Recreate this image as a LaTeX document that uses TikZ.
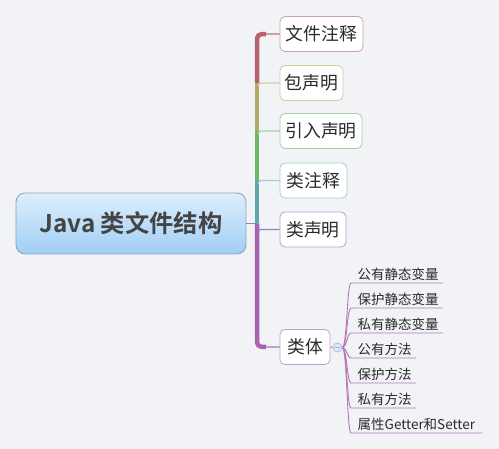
\documentclass[tikz,border=0pt]{standalone}
\usepackage{fontspec}
\setmainfont{Noto Sans CJK SC}[BoldFont={Noto Sans CJK SC Bold}]
\definecolor{bg}{HTML}{F2F3F7}
\definecolor{txt}{HTML}{2A2A2A}
\definecolor{ctxt}{HTML}{444444}
\definecolor{cRed}{HTML}{B4646E}
\definecolor{cOlive}{HTML}{B0AA62}
\definecolor{cGreen}{HTML}{72B565}
\definecolor{cTeal}{HTML}{5FA8A8}
\definecolor{cBlue}{HTML}{8C86C0}
\definecolor{cPurple}{HTML}{A862B0}
\definecolor{bRed}{HTML}{C9A3A8}
\definecolor{bOlive}{HTML}{CFCDA0}
\definecolor{bGreen}{HTML}{A6D0A0}
\definecolor{bTeal}{HTML}{A0CDCD}
\definecolor{bBlue}{HTML}{A8A6D0}
\definecolor{bPurple}{HTML}{C4A0CA}
\definecolor{subline}{HTML}{B478B8}
\begin{document}
\begin{tikzpicture}[x=1pt,y=-1pt,
  branchbox/.style={draw, rounded corners=5pt, fill=white, line width=0.8pt,
    font=\fontsize{17.8}{20}\selectfont, text=txt, inner sep=0pt, minimum height=35pt},
  trunk/.style={line width=4.5pt},
  thinlink/.style={line width=1.2pt},
  subitem/.style={anchor=base west, inner sep=0pt, font=\fontsize{13.5}{16}\selectfont, text=txt},
  subline/.style={draw=subline, line width=0.9pt}]
\fill[bg] (0,0) rectangle (499,449);
\useasboundingbox (0,0) rectangle (499,449);

% central node
\node[draw={rgb,255:red,140;green,160;blue,185}, line width=0.8pt, rounded corners=9pt,
  top color={rgb,255:red,222;green,238;blue,252}, bottom color={rgb,255:red,160;green,206;blue,246},
  minimum width=230pt, minimum height=61pt, inner sep=0pt,
  font=\fontsize{24.3}{28}\bfseries\selectfont, text=ctxt] (root) at (131,223.5) {Java 类文件结构};

% branch boxes
\node[branchbox, draw=bRed, minimum width=83pt] (f1) at (321.5,34) {文件注释};
\node[branchbox, draw=bOlive, minimum width=63pt] (f2) at (311.5,83) {包声明};
\node[branchbox, draw=bGreen, minimum width=82pt] (f3) at (321,131) {引入声明};
\node[branchbox, draw=bTeal, minimum width=67pt] (f4) at (313.5,180.5) {类注释};
\node[branchbox, draw=bBlue, minimum width=66pt] (f5) at (313,229.5) {类声明};
\node[branchbox, draw=bPurple, minimum width=50pt] (f6) at (305,347) {类体};

% trunk points
\coordinate (t0) at (257,223.5);
\coordinate (t1) at (257,34);
\coordinate (t2) at (257,83);
\coordinate (t3) at (257,131);
\coordinate (t4) at (257,180.5);
\coordinate (t5) at (257,229.5);
\coordinate (t6) at (257,347);

% root to trunk
\draw[draw={rgb,255:red,150;green,136;blue,176}, line width=1.2pt] (root.east) -- (t0);

% trunk segments
\draw[trunk, cRed] (t2) -- ([yshift=-8pt]t1) .. controls ([yshift=-1pt]t1) and ([xshift=1pt]t1) .. ([xshift=9pt]t1);
\draw[trunk, cOlive] (t3) -- (t2);
\draw[trunk, cGreen] (t4) -- (t3);
\draw[trunk, cTeal] (t0) -- (t4);
\draw[trunk, cPurple] (t0) -- ([yshift=8pt]t6) .. controls ([yshift=1pt]t6) and ([xshift=1pt]t6) .. ([xshift=9pt]t6);

% thin links
\draw[thinlink, bRed] ([xshift=9pt]t1) -- (f1.west);
\draw[thinlink, bOlive] ([xshift=1pt,yshift=-3pt]t2) .. controls ([xshift=2pt]t2) .. ([xshift=7pt]t2) -- (f2.west);
\draw[thinlink, bGreen] ([xshift=1pt,yshift=-3pt]t3) .. controls ([xshift=2pt]t3) .. ([xshift=7pt]t3) -- (f3.west);
\draw[thinlink, bTeal] ([xshift=1pt,yshift=-3pt]t4) .. controls ([xshift=2pt]t4) .. ([xshift=7pt]t4) -- (f4.west);
\draw[thinlink, cBlue] ([xshift=1pt,yshift=-3pt]t5) .. controls ([xshift=2pt]t5) .. ([xshift=7pt]t5) -- (f5.west);
\draw[thinlink, bPurple] ([xshift=9pt]t6) -- (f6.west);

% collapse circle
\node[circle, draw={rgb,255:red,160;green,190;blue,220}, fill={rgb,255:red,220;green,234;blue,248},
  minimum size=9pt, inner sep=0pt, line width=0.7pt] (col) at (337.5,347.5) {};
\draw[draw={rgb,255:red,150;green,180;blue,215}, line width=0.7pt] ([xshift=-2.5pt]col.center) -- ([xshift=2.5pt]col.center);
\draw[subline] (f6.east) -- (col.west);

% sub items
\foreach \i/\yu/\xe/\t in {1/283/443/公有静态变量, 2/308/443/保护静态变量, 3/333/443/私有静态变量,
    4/358/416/公有方法, 5/383/416/保护方法, 6/408/416/私有方法, 7/433/482/属性Getter和Setter}{
  \coordinate (s\i a) at (351,\yu);
  \coordinate (s\i b) at (\xe,\yu);
  \node[subitem] (s\i) at (357.5,\yu-3.5) {\t};
  \draw[subline] (col.east) .. controls (347,347.5) and (347,\yu) .. (s\i a) -- (s\i b);
}
\end{tikzpicture}
\end{document}
